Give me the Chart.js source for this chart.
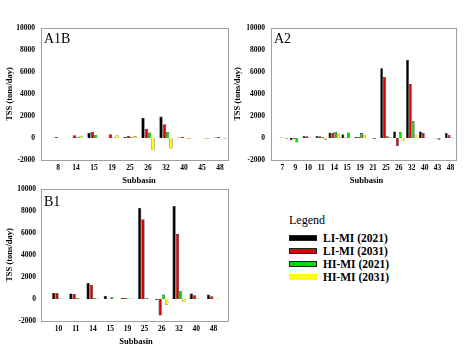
<!DOCTYPE html>
<html>
<head>
<meta charset="utf-8">
<script src="https://cdn.jsdelivr.net/npm/chart.js@4/dist/chart.umd.min.js"></script>
<style>
  body { margin: 0; background: #fff; width: 474px; height: 348px; position: relative; overflow: hidden; font-family: "Liberation Serif", serif; }
  canvas { position: absolute; }
  #legend { position: absolute; left: 289px; top: 212px; color: #000; }
  #legend .head { font-size: 12px; height: 16px; line-height: 16px; margin-bottom: 4px; }
  #legend .item { height: 13px; line-height: 13px; font-size: 11.5px; font-weight: bold; white-space: nowrap; }
  #legend .sw { display: inline-block; width: 26px; height: 4px; border: 0.8px solid #222; vertical-align: middle; margin-right: 6px; position: relative; top: -1px; }
</style>
</head>
<body>
<canvas id="a1b" style="left:0;top:0;width:230px;height:190px"></canvas>
<canvas id="a2" style="left:230px;top:0;width:244px;height:190px"></canvas>
<canvas id="b1" style="left:0;top:165px;width:230px;height:183px"></canvas>
<div id="legend">
  <div class="head">Legend</div>
  <div class="item"><span class="sw" style="background:#000"></span>LI-MI (2021)</div>
  <div class="item"><span class="sw" style="background:#e00000"></span>LI-MI (2031)</div>
  <div class="item"><span class="sw" style="background:#00e000"></span>HI-MI (2021)</div>
  <div class="item"><span class="sw" style="background:#ffff00;border-color:#ffff00"></span>HI-MI (2031)</div>
</div>
<script>
const seriesNames = ['LI-MI (2021)', 'LI-MI (2031)', 'HI-MI (2021)', 'HI-MI (2031)'];
const seriesColors = ['#000000', '#e00000', '#00e000', '#ffff00'];
const yMin = -2000, yMax = 10000, yStep = 2000;

// A1B
const a1bCats = ['8', '14', '15', '19', '25', '26', '32', '40', '45', '48'];
const a1bLiMi21 = [20, 30, 480, 30, 100, 1850, 1950, 50, 10, 50];
const a1bLiMi31 = [80, 250, 550, 350, 200, 850, 1250, 120, 10, 100];
const a1bHiMi21 = [10, 60, 300, 40, 60, 500, 550, 30, -30, 30];
const a1bHiMi31 = [-20, 200, 20, 250, 150, -1100, -950, -80, -80, -60];

// A2
const a2Cats = ['7', '9', '10', '11', '14', '15', '19', '21', '25', '26', '32', '40', '43', '48'];
const a2LiMi21 = [30, -200, 200, 200, 500, 350, 100, -30, 6350, 600, 7100, 600, -30, 450];
const a2LiMi31 = [50, -100, 150, 150, 450, 50, 100, 30, 5550, -750, 4900, 450, -50, 300];
const a2HiMi21 = [20, -400, 50, 100, 550, 500, 450, -100, 150, 550, 1550, 50, -150, 50];
const a2HiMi31 = [-100, 0, 0, -150, 400, 0, 300, 0, 100, -300, 300, 0, 0, 0];

// B1
const b1Cats = ['10', '11', '14', '15', '19', '25', '26', '32', '40', '48'];
const b1LiMi21 = [550, 500, 1450, 300, 100, 8300, -100, 8450, 500, 400];
const b1LiMi31 = [550, 450, 1300, 0, 80, 7250, -1500, 5900, 350, 250];
const b1HiMi21 = [50, 100, 80, 150, 50, 100, 400, 700, 50, 0];
const b1HiMi31 = [0, 50, 50, 0, 50, 50, -550, -300, 0, 50];

const bold7 = { family: '"Liberation Serif", serif', size: 7.5, weight: 'bold' };
const bold8 = { family: '"Liberation Serif", serif', size: 8.5, weight: 'bold' };

// grey box around the plot plus the panel tag
const framePlugin = {
  id: 'frame',
  afterDraw(chart, args, opts) {
    const a = chart.chartArea, ctx = chart.ctx;
    ctx.save();
    ctx.strokeStyle = '#a0a0a0';
    ctx.lineWidth = 1;
    ctx.strokeRect(Math.round(a.left - opts.l) + 0.5, Math.round(a.top) + 0.5,
      Math.round(a.right - a.left + opts.l + opts.r) - 1, Math.round(a.bottom - a.top));
    ctx.fillStyle = '#000';
    ctx.font = '14px "Liberation Serif", serif';
    ctx.textBaseline = 'alphabetic';
    ctx.fillText(opts.label, a.left - opts.l + 3, a.top + opts.ty);
    ctx.restore();
  }
};

function makeChart(id, cats, values, cfg) {
  new Chart(document.getElementById(id), {
    type: 'bar',
    data: {
      labels: cats,
      datasets: values.map((v, i) => ({
        label: seriesNames[i],
        data: v,
        backgroundColor: seriesColors[i],
        borderColor: i === 3 ? '#6a5a00' : '#222',
        borderWidth: 0.6,
        categoryPercentage: cfg.cat,
        barPercentage: 1
      }))
    },
    options: {
      responsive: false,
      animation: false,
      devicePixelRatio: 1,
      layout: { padding: { top: cfg.top, right: cfg.right, left: 0, bottom: 0 } },
      plugins: {
        legend: { display: false },
        tooltip: { enabled: false },
        frame: { l: cfg.fl, r: cfg.fr, label: cfg.label, ty: cfg.ty }
      },
      scales: {
        x: {
          grid: { display: false, drawTicks: false },
          border: { display: false },
          ticks: { font: bold7, color: '#000', padding: cfg.xpad, maxRotation: 0, autoSkip: false },
          title: { display: true, text: 'Subbasin', font: bold8, color: '#000', padding: { top: 0, bottom: cfg.xtb } },
          afterFit(s) { s.height = cfg.xh; }
        },
        y: {
          min: yMin, max: yMax,
          grid: { display: false, drawTicks: false },
          border: { display: false },
          ticks: { stepSize: yStep, font: bold7, color: '#000', padding: cfg.ypad, callback: v => String(v) },
          title: { display: true, text: 'TSS (tons/day)', font: bold8, color: '#000', padding: { top: cfg.ytp, bottom: 0 } },
          afterFit(s) { s.width = cfg.yw; }
        }
      }
    },
    plugins: [framePlugin]
  });
}

makeChart('a1b', a1bCats, [a1bLiMi21, a1bLiMi31, a1bHiMi21, a1bHiMi31],
  { label: 'A1B', top: 28, right: 1, yw: 49, ypad: 14, ytp: 5, xh: 30, xpad: 4, xtb: 4, fl: 8, fr: 0, ty: 15, cat: 0.74 });
makeChart('a2', a2Cats, [a2LiMi21, a2LiMi31, a2HiMi21, a2HiMi31],
  { label: 'A2', top: 28, right: 17, yw: 46, ypad: 11, ytp: 2.5, xh: 30, xpad: 4, xtb: 4, fl: 5, fr: 0, ty: 15, cat: 0.88 });
makeChart('b1', b1Cats, [b1LiMi21, b1LiMi31, b1HiMi21, b1HiMi31],
  { label: 'B1', top: 24, right: 8, yw: 50, ypad: 14, ytp: 5, xh: 27, xpad: 4, xtb: 1, fl: 9, fr: 7, ty: 17, cat: 0.76 });
</script>
</body>
</html>
